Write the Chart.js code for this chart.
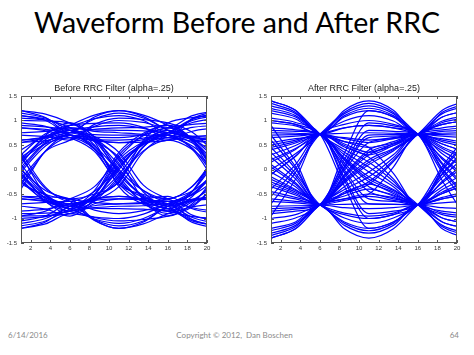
<!DOCTYPE html>
<html><head><meta charset="utf-8">
<script src="https://cdn.jsdelivr.net/npm/chart.js@4"></script>
<style>
html,body{margin:0;padding:0;background:#fff;width:474px;height:355px;overflow:hidden;position:relative;font-family:Lato,sans-serif}
#t{position:absolute;left:0;width:474px;top:8px;text-align:center;font-size:28.5px;line-height:28px;color:#000;white-space:nowrap}
.c{position:absolute;top:78px;width:224px;height:177px}
.f{position:absolute;top:331px;font-size:8px;line-height:9px;color:#8a8a8a;white-space:pre}
</style></head><body>
<div id="t">Waveform Before and After RRC</div>
<div class="c" style="left:0"><canvas id="c1" width="224" height="177"></canvas></div>
<div class="c" style="left:250px"><canvas id="c2" width="224" height="177"></canvas></div>
<div class="f" style="left:8px">6/14/2016</div>
<div class="f" style="left:0;width:469px;text-align:center">Copyright © 2012,  Dan Boschen</div>
<div class="f" style="right:15px">64</div>
<script>
// sample positions (x) for every trace
const xs = [1, 3.5, 6, 8.5, 11, 13.5, 16, 18.5, 21];
const xTicks = [2, 4, 6, 8, 10, 12, 14, 16, 18, 20];
const yTicks = [-1.5, -1, -0.5, 0, 0.5, 1, 1.5];
const yTickLabels = ['-1.5', '-1', '-0.5', '0', '0.5', '1', '1.5'];
const titleBefore = 'Before RRC Filter (alpha=.25)';
const titleAfter = 'After RRC Filter (alpha=.25)';

// Before RRC: traces
const beforeTraces = [
  [0.05,0.55,0.75,1.03,1.15,1.05,0.8,0.6,0.1],
  [1.1,1.03,0.85,0.59,-0.05,-0.55,-0.75,-1.03,-1.15],
  [-1.15,-1.05,-0.8,-0.51,0.2,0.56,0.7,0.63,0.6],
  [-0.1,-0.53,-0.7,-0.59,-0.55,-0.62,-0.8,-0.55,0.05],
  [0.55,0.59,0.7,0.44,-0.2,-0.66,-0.85,-0.66,-0.2],
  [0.3,0.73,0.9,0.94,0.95,0.86,0.65,1.04,1.2],
  [0.25,-0.39,-0.65,-1.04,-1.2,-1.11,-0.9,-0.73,-0.3],
  [-0.95,-0.85,-0.6,-0.35,0.25,0.71,0.9,0.57,-0.25],
  [-0.3,0.37,0.65,0.61,0.6,0.64,0.75,1.0,1.1],
  [0.9,0.87,0.8,0.6,0.1,-0.43,-0.65,-0.61,-0.6],
  [-0.6,-0.64,-0.75,-0.56,-0.1,0.54,0.8,0.63,0.2],
  [1.2,1.06,0.7,0.59,0.55,0.56,0.6,0.78,0.85],
  [-1.2,-1.11,-0.9,-0.97,-1.0,-0.91,-0.7,-0.51,-0.05],
  [0.15,0.61,0.8,0.5,-0.25,-0.57,-0.7,-0.98,-1.1],
  [-0.2,-0.66,-0.85,-0.52,0.3,0.69,0.85,0.92,0.95],
  [0.7,0.67,0.6,0.92,1.05,1.02,0.95,0.76,0.3],
  [-0.75,-0.81,-0.95,-0.7,-0.6,-0.59,-0.55,-0.8,-0.9],
  [-0.05,0.48,0.7,0.41,-0.3,-0.51,-0.6,-0.35,0.25],
  [0.1,-0.5,-0.75,-0.43,0.35,0.74,0.9,0.61,-0.1],
  [1.0,0.99,0.95,0.57,-0.35,-0.71,-0.85,-0.64,-0.55],
  [-1.05,-0.95,-0.7,-1.02,-1.15,-1.05,-0.8,-1.08,-1.2],
  [0.6,0.64,0.75,0.71,0.7,0.7,0.7,0.41,-0.3],
  [0.35,-0.36,-0.65,-0.45,0.05,0.55,0.75,1.03,1.15],
  [-0.55,-0.62,-0.8,-0.52,0.15,0.51,0.65,0.58,0.55],
  [0.85,0.82,0.75,1.07,1.2,1.11,0.9,0.6,-0.15],
  [-0.25,-0.64,-0.8,-1.01,-1.1,-1.0,-0.75,-0.45,0.3],
  [0.2,0.66,0.85,0.81,0.8,0.79,0.75,0.68,0.65],
  [-0.15,-0.58,-0.75,-0.79,-0.8,-0.81,-0.85,-0.96,-1.0],
  [-0.9,-0.89,-0.85,-0.65,-0.15,0.38,0.6,0.41,-0.05],
  [1.15,1.05,0.8,0.63,0.2,-0.62,-0.95,-0.7,-0.1],
  [0.0,-0.43,-0.6,-0.67,-0.7,-0.69,-0.65,-0.93,-1.05],
  [-0.4,0.38,0.7,0.48,-0.05,-0.58,-0.8,-0.45,0.4],
  [0.4,0.68,0.8,0.87,0.9,0.84,0.7,0.44,-0.2],
  [-1.1,-1.0,-0.75,-0.59,-0.2,0.47,0.75,0.96,1.05],
  [0.95,0.88,0.7,0.66,0.65,0.71,0.85,0.6,0.0],
  [-0.05,-0.65,-0.9,-0.62,0.05,0.51,0.7,0.54,0.15],
  [0.2,0.52,0.65,0.42,-0.15,-0.68,-0.9,-0.76,-0.7],
  [-0.7,-0.67,-0.65,-0.83,-0.9,-0.84,-0.7,-0.44,0.2],
  [1.05,1.01,0.9,1.04,1.1,1.0,0.75,0.86,0.9],
  [-0.3,-0.51,-0.6,-0.5,-0.25,0.6,0.95,1.06,1.1],
  [0.6,0.66,0.8,0.67,0.35,-0.32,-0.6,-0.78,-0.85],
  [-0.85,-0.81,-0.7,-0.63,-0.6,-0.62,-0.65,-0.52,-0.2],
  [0.1,0.7,0.95,0.65,-0.1,-0.53,-0.7,-0.5,0.0],
  [-0.1,-0.6,-0.8,-0.98,-1.05,-1.02,-0.95,-0.76,-0.3],
  [0.75,0.78,0.85,0.78,0.75,0.71,0.6,0.67,0.7],
  [0.3,-0.52,-0.85,-0.74,-0.7,-0.67,-0.6,-0.44,-0.05],
  [-0.2,0.37,0.6,0.88,1.0,0.96,0.85,1.1,1.2],
  [1.2,1.13,0.95,0.67,0.0,-0.43,-0.6,-0.34,0.3],
  [-1.2,-1.07,-0.75,-0.63,-0.35,0.36,0.65,0.48,0.05],
  [0.0,0.53,0.75,0.61,0.55,0.61,0.75,0.61,0.55],
  [0.0,-0.53,-0.75,-0.61,-0.55,-0.61,-0.75,-0.61,-0.55],
  [-0.6,-0.66,-0.8,-0.57,0.0,0.57,0.8,0.66,0.6],
  [0.85,0.79,0.65,0.37,-0.3,-0.66,-0.8,-1.05,-1.15],
  [-0.95,-0.94,-0.9,-0.61,0.1,0.53,0.7,1.02,1.15],
  [0.55,0.65,0.9,1.11,1.2,1.08,0.8,0.66,0.6],
  [-0.55,-0.56,-0.6,-1.03,-1.2,-1.07,-0.75,-0.64,-0.6],
  [0.25,0.57,0.7,0.57,0.25,-0.46,-0.75,-0.62,-0.3],
  [-0.25,-0.57,-0.7,-0.57,-0.25,0.46,0.75,0.62,0.3],
  [1.1,1.0,0.75,0.82,0.85,0.86,0.9,0.61,-0.1],
  [-1.0,-0.96,-0.85,-0.78,-0.75,-0.74,-0.7,-1.02,-1.15]
];

// After RRC: traces
const afterTraces = [
  [0.0,0.32,0.72,1.17,1.35,1.17,0.72,0.38,0.1],
  [1.3,1.14,0.72,0.35,0.05,-0.3,-0.72,-1.14,-1.3],
  [-1.4,-1.21,-0.72,-0.49,-0.3,0.16,0.72,0.85,0.9],
  [-0.2,-0.43,-0.72,-0.99,-1.1,-0.99,-0.72,-0.16,0.3],
  [0.5,0.6,0.72,0.52,0.35,0.52,0.72,1.07,1.2],
  [-0.55,0.02,0.72,0.92,1.0,0.92,0.72,0.1,-0.4],
  [0.6,0.01,-0.72,-0.1,0.4,0.54,0.72,0.21,-0.2],
  [1.0,0.92,0.72,0.08,-0.45,-0.57,-0.72,-0.6,-0.5],
  [-1.0,-0.92,-0.72,-0.6,-0.5,-0.6,-0.72,-1.17,-1.35],
  [0.25,-0.19,-0.72,-0.24,0.15,0.41,0.72,1.21,1.4],
  [1.4,1.21,0.72,1.1,1.25,1.1,0.72,0.63,0.55],
  [-0.35,-0.52,-0.72,-0.02,0.55,0.63,0.72,-0.01,-0.6],
  [0.85,0.81,0.72,0.24,-0.15,-0.41,-0.72,-0.85,-0.9],
  [-1.2,-1.07,-0.72,-1.21,-1.4,-1.21,-0.72,-0.35,-0.05],
  [0.15,0.41,0.72,-0.17,-0.9,-0.85,-0.72,-0.08,0.45],
  [-0.9,-0.85,-0.72,0.12,0.8,0.78,0.72,0.43,0.2],
  [0.4,0.54,0.72,0.85,0.9,0.85,0.72,-0.23,-1.0],
  [-0.65,-0.68,-0.72,-0.46,-0.25,0.19,0.72,0.92,1.0],
  [1.15,1.03,0.72,0.65,0.6,0.65,0.72,0.32,0.0],
  [-0.05,-0.35,-0.72,-0.16,0.3,0.49,0.72,1.14,1.3],
  [0.7,0.71,0.72,0.13,-0.35,-0.52,-0.72,-1.07,-1.2],
  [-1.35,-1.17,-0.72,-0.78,-0.8,-0.78,-0.72,-0.6,-0.5],
  [0.3,0.49,0.72,0.57,0.45,0.57,0.72,0.13,-0.35],
  [-0.45,-0.57,-0.72,-1.1,-1.25,-1.1,-0.72,-0.78,-0.8],
  [1.25,1.1,0.72,0.3,-0.05,-0.35,-0.72,0.01,0.6],
  [-0.8,-0.78,-0.72,-0.27,0.1,0.38,0.72,0.81,0.85],
  [0.05,-0.3,-0.72,-0.71,-0.7,-0.71,-0.72,-0.41,-0.15],
  [0.95,0.89,0.72,1.21,1.4,1.21,0.72,0.96,1.05],
  [-0.1,0.27,0.72,0.46,0.25,-0.19,-0.72,-0.46,-0.25],
  [0.45,-0.08,-0.72,-0.92,-1.0,-0.92,-0.72,-0.89,-0.95],
  [0.65,0.68,0.72,-0.01,-0.6,-0.65,-0.72,-0.24,0.15],
  [-1.1,-0.99,-0.72,0.03,0.65,0.68,0.72,0.71,0.7],
  [1.05,0.96,0.72,-0.34,-1.2,-1.07,-0.72,-0.49,-0.3],
  [-0.3,-0.49,-0.72,0.34,1.2,1.07,0.72,0.74,0.75],
  [0.8,0.78,0.72,0.21,-0.2,-0.43,-0.72,-0.92,-1.0],
  [-0.75,-0.74,-0.72,-0.21,0.2,0.43,0.72,0.92,1.0],
  [0.2,0.43,0.72,0.99,1.1,0.99,0.72,0.78,0.8],
  [-0.15,-0.41,-0.72,-0.89,-0.95,-0.89,-0.72,-0.99,-1.1],
  [1.35,1.17,0.72,0.74,0.75,0.74,0.72,0.46,0.25],
  [-1.3,-1.14,-0.72,-0.54,-0.4,-0.54,-0.72,-0.1,0.4],
  [0.35,-0.13,-0.72,0.2,0.95,0.89,0.72,-0.06,-0.7],
  [-0.4,0.1,0.72,-0.23,-1.0,-0.92,-0.72,0.06,0.7],
  [1.2,1.07,0.72,0.57,0.45,-0.08,-0.72,-0.49,-0.3],
  [-1.25,-1.1,-0.72,-0.6,-0.5,0.05,0.72,0.52,0.35],
  [0.55,0.63,0.72,1.14,1.3,1.14,0.72,1.17,1.35],
  [-0.6,-0.65,-0.72,-1.14,-1.3,-1.14,-0.72,-1.21,-1.4],
  [0.9,0.17,-0.72,-0.49,-0.3,-0.49,-0.72,-0.02,0.55],
  [-0.95,-0.2,0.72,0.49,0.3,0.49,0.72,0.02,-0.55],
  [0.1,-0.27,-0.72,0.06,0.7,0.71,0.72,1.07,1.2],
  [-0.1,0.27,0.72,-0.06,-0.7,-0.71,-0.72,-1.07,-1.2],
  [1.0,0.92,0.72,0.85,0.9,0.85,0.72,0.52,0.35],
  [-0.85,-0.81,-0.72,-0.35,-0.05,0.3,0.72,0.6,0.5],
  [0.45,0.57,0.72,0.19,-0.25,-0.46,-0.72,-0.68,-0.65],
  [-0.5,-0.6,-0.72,-0.13,0.35,0.52,0.72,0.68,0.65],
  [1.4,1.21,0.72,0.41,0.15,-0.24,-0.72,-0.57,-0.45],
  [-1.4,-1.21,-0.72,-0.41,-0.15,0.24,0.72,0.57,0.45],
  [0.75,0.74,0.72,1.07,1.2,1.07,0.72,0.24,-0.15],
  [-0.25,-0.46,-0.72,-1.07,-1.2,-1.07,-0.72,-0.27,0.1],
  [-0.7,-0.06,0.72,0.63,0.55,0.63,0.72,0.99,1.1],
  [0.7,0.06,-0.72,-0.63,-0.55,-0.63,-0.72,-0.99,-1.1]
];

const boxPlugin = {
  id: 'matlabBox',
  afterDatasetsDraw(chart) {
    const {ctx, chartArea: a, scales: {x, y}} = chart;
    ctx.save();
    ctx.strokeStyle = '#555';
    ctx.lineWidth = 1;
    ctx.strokeRect(a.left + 0.5, a.top + 0.5, a.right - a.left - 1, a.bottom - a.top - 1);
    ctx.beginPath();
    xTicks.forEach(v => {
      const px = Math.round(x.getPixelForValue(v)) + 0.5;
      ctx.moveTo(px, a.bottom); ctx.lineTo(px, a.bottom - 3);
      ctx.moveTo(px, a.top); ctx.lineTo(px, a.top + 3);
    });
    yTicks.forEach(v => {
      const py = Math.round(y.getPixelForValue(v)) + 0.5;
      ctx.moveTo(a.left, py); ctx.lineTo(a.left + 3, py);
      ctx.moveTo(a.right, py); ctx.lineTo(a.right - 3, py);
    });
    ctx.stroke();
    ctx.restore();
  }
};

function makeChart(id, traces, title) {
  const datasets = traces.map(tr => ({
    data: xs.map((xv, i) => ({x: xv, y: tr[i]})),
    borderColor: '#0000ff',
    borderWidth: 1.2,
    pointRadius: 0,
    fill: false,
    cubicInterpolationMode: 'monotone',
    clip: 0
  }));
  const tickFont = {family: 'Liberation Sans', size: 6};
  return new Chart(document.getElementById(id), {
    type: 'line',
    data: {datasets},
    plugins: [boxPlugin],
    options: {
      responsive: false,
      animation: false,
      devicePixelRatio: 1,
      layout: {padding: {left: 0, right: 17, top: 0, bottom: 0}},
      plugins: {
        legend: {display: false},
        tooltip: {enabled: false},
        title: {display: true, text: title, color: '#222', fullSize: false,
          font: {family: 'Liberation Sans', size: 9, weight: 'normal', lineHeight: 1.2},
          padding: {top: 5, bottom: 2.2}}
      },
      scales: {
        x: {
          type: 'linear', min: 1, max: 20,
          grid: {display: false, drawTicks: false}, border: {display: false},
          afterBuildTicks: s => { s.ticks = xTicks.map(v => ({value: v})); },
          afterFit: s => { s.height = 12; },
          ticks: {font: tickFont, color: '#333', padding: 2, maxRotation: 0, autoSkip: false,
            callback: v => String(v)}
        },
        y: {
          min: -1.5, max: 1.5,
          grid: {display: false, drawTicks: false}, border: {display: false},
          afterBuildTicks: s => { s.ticks = yTicks.map(v => ({value: v})); },
          afterFit: s => { s.width = 21; },
          ticks: {font: tickFont, color: '#333', padding: 4, autoSkip: false,
            callback: v => yTickLabels[yTicks.indexOf(v)]}
        }
      }
    }
  });
}
makeChart('c1', beforeTraces, titleBefore);
makeChart('c2', afterTraces, titleAfter);
</script>
</body></html>
